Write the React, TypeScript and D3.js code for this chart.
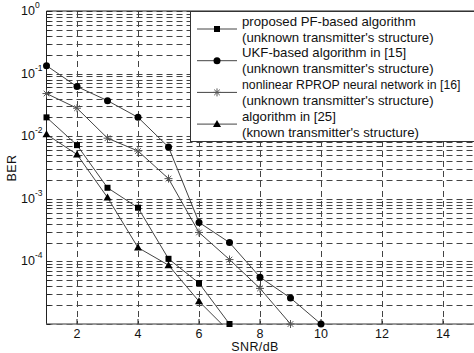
import * as d3 from "d3";
import React from "react";

const snr = [1, 2, 3, 4, 5, 6, 7, 8, 9, 10];

const pfBased = [0.02, 0.0072, 0.0015, 7.2e-4, 1.1e-4, 4.5e-5, 1e-5];
const ukfBased = [0.134, 0.062, 0.037, 0.02, 0.0067, 4.2e-4, 2e-4, 5.6e-5, 2.6e-5, 1e-5];
const rprop = [0.048, 0.028, 0.0093, 0.0058, 0.0021, 2.9e-4, 1.07e-4, 3.7e-5, 1e-5];
const knownTx = [0.0107, 0.0051, 0.00105, 1.66e-4, 8.7e-5, 2.3e-5, 7.5e-6];

const xTicks = [2, 4, 6, 8, 10, 12, 14];
const yDecades = [-4, -3, -2, -1, 0];

const legendLines = [
  ["proposed PF-based algorithm", "(unknown transmitter's structure)"],
  ["UKF-based algorithm in [15]", "(unknown transmitter's structure)"],
  ["nonlinear RPROP neural network in [16]", "(unknown transmitter's structure)"],
  ["algorithm in [25]", "(known transmitter's structure)"],
];

type Shape = "square" | "circle" | "star" | "triangle";
const seriesList: { values: number[]; shape: Shape }[] = [
  { values: pfBased, shape: "square" },
  { values: ukfBased, shape: "circle" },
  { values: rprop, shape: "star" },
  { values: knownTx, shape: "triangle" },
];

const W = 474;
const H = 353;
const m = { left: 46.5, right: 473.5, top: 11, bottom: 324 };
const font = "'Liberation Sans', Arial, sans-serif";

const Marker = ({ shape, x, y }: { shape: Shape; x: number; y: number }) => {
  if (shape === "square")
    return <rect x={x - 3} y={y - 3} width={6} height={6} fill="#000" />;
  if (shape === "circle") return <circle cx={x} cy={y} r={3.5} fill="#000" />;
  if (shape === "triangle")
    return <path d={`M${x},${y - 4}L${x + 4},${y + 3}L${x - 4},${y + 3}Z`} fill="#000" />;
  const r = 4;
  const d = r * 0.7;
  return (
    <path
      d={`M${x - r},${y}L${x + r},${y}M${x},${y - r}L${x},${y + r}M${x - d},${y - d}L${x + d},${y + d}M${x - d},${y + d}L${x + d},${y - d}`}
      stroke="#555"
      strokeWidth={1}
      fill="none"
    />
  );
};

export default function App() {
  const x = d3.scaleLinear().domain([1, 15]).range([m.left, m.right]);
  const y = d3.scaleLog().domain([1e-5, 1]).range([m.bottom, m.top]);

  const minorValues: number[] = [];
  for (let e = -5; e < 0; e++) {
    for (let k = 1; k <= 9; k++) minorValues.push(k * Math.pow(10, e));
  }
  minorValues.push(1);

  const line = d3
    .line<number>()
    .x((_, i) => x(snr[i]))
    .y((d) => y(d));

  return (
    <svg
      width={W}
      height={H}
      style={{ position: "fixed", left: 0, top: 0, background: "#fff" }}
      fontFamily={font}
    >
      <defs>
        <clipPath id="plot">
          <rect x={m.left} y={m.top} width={m.right - m.left} height={m.bottom - m.top + 0.5} />
        </clipPath>
      </defs>
      <rect x={0} y={0} width={W} height={H} fill="#fff" />
      {/* horizontal grid */}
      {minorValues.map((v, i) => (
        <line
          key={"h" + i}
          x1={m.left}
          x2={m.right}
          y1={Math.round(y(v)) + 0.5}
          y2={Math.round(y(v)) + 0.5}
          stroke="#444"
          strokeWidth={1}
          strokeDasharray="6,4"
        />
      ))}
      {/* vertical grid */}
      {xTicks.map((t) => (
        <line
          key={"v" + t}
          x1={Math.round(x(t)) + 0.5}
          x2={Math.round(x(t)) + 0.5}
          y1={m.top}
          y2={m.bottom}
          stroke="#444"
          strokeWidth={1}
          strokeDasharray="6,4"
        />
      ))}
      {/* axes box */}
      <line x1={m.left} x2={m.left} y1={m.top} y2={m.bottom} stroke="#222" />
      <line x1={m.left} x2={m.right + 2} y1={m.top} y2={m.top} stroke="#222" />
      <line x1={m.left} x2={W} y1={m.bottom} y2={m.bottom} stroke="#777" strokeWidth={1.5} />
      {/* left minor ticks */}
      {minorValues.map((v, i) => (
        <line
          key={"t" + i}
          x1={m.left}
          x2={m.left + 4}
          y1={Math.round(y(v)) + 0.5}
          y2={Math.round(y(v)) + 0.5}
          stroke="#222"
        />
      ))}
      {/* x ticks */}
      {xTicks.map((t) => (
        <g key={"xt" + t}>
          <line x1={x(t)} x2={x(t)} y1={m.bottom} y2={m.bottom - 5} stroke="#222" />
          <text x={x(t)} y={338} fontSize={12.5} textAnchor="middle" fill="#111">
            {t}
          </text>
        </g>
      ))}
      {/* y tick labels */}
      {yDecades.map((e) => (
        <text key={"yl" + e} x={21} y={y(Math.pow(10, e)) + 4} fontSize={12.5} fill="#111">
          10
          <tspan dy={-7} fontSize={8.5}>
            {e}
          </tspan>
        </text>
      ))}
      <text x={255} y={351} fontSize={12.5} letterSpacing={0.4} textAnchor="middle" fill="#111">
        SNR/dB
      </text>
      <text
        transform={`translate(16,168) rotate(-90)`}
        fontSize={12.5}
        letterSpacing={0.4}
        textAnchor="middle"
        fill="#111"
      >
        BER
      </text>
      {/* series */}
      <g clipPath="url(#plot)">
        {seriesList.map((s, i) => (
          <path key={"s" + i} d={line(s.values) ?? ""} fill="none" stroke="#444" strokeWidth={1} />
        ))}
      </g>
      {seriesList.map((s, i) =>
        s.values.map((v, j) =>
          v >= 1e-5 ? <Marker key={`m${i}-${j}`} shape={s.shape} x={x(snr[j])} y={y(v)} /> : null
        )
      )}
      {/* legend */}
      <rect x={190.5} y={11.5} width={300} height={130} fill="#fff" stroke="#333" strokeWidth={1} />
      {legendLines.map((lines, i) => {
        const cy = 29 + i * 31.7;
        // the long RPROP line gets a slightly smaller font so it stays inside the picture
        const long = lines[0].length > 30;
        return (
          <g key={"lg" + i}>
            <line x1={197} x2={237} y1={cy} y2={cy} stroke="#444" />
            <Marker shape={seriesList[i].shape} x={217} y={cy} />
            <text x={242} y={cy - 3.5} fontSize={long ? 12.3 : 13.2} fill="#111">
              {lines[0]}
            </text>
            <text x={242} y={cy + 12.5} fontSize={13.2} fill="#111">
              {lines[1]}
            </text>
          </g>
        );
      })}
    </svg>
  );
}
